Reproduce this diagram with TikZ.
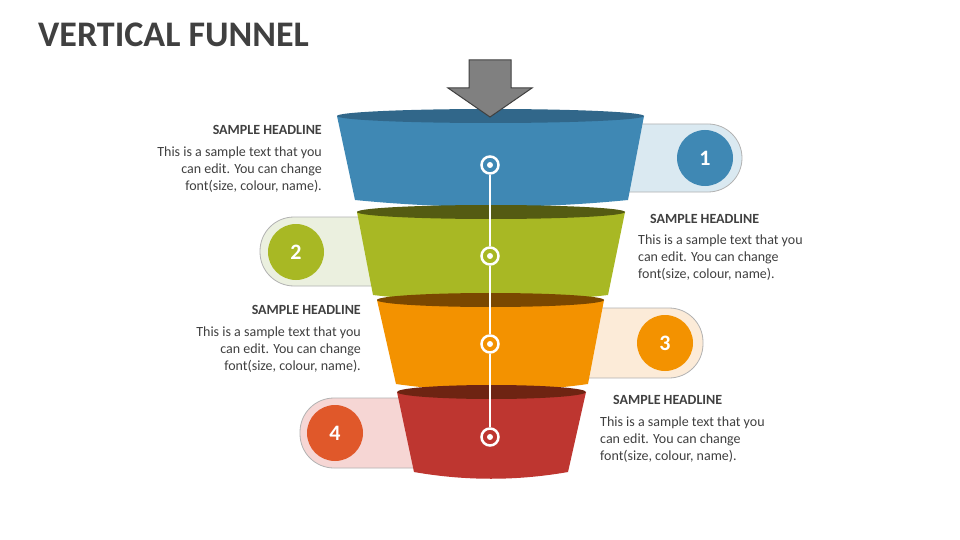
\documentclass[tikz,border=0pt]{standalone}
\usepackage{fontspec}
\setmainfont{Carlito}
\begin{document}
\begin{tikzpicture}[x=1pt,y=-1pt,
  pill/.style={draw=black!30,line width=0.8pt,rounded corners=34pt},
  num/.style={circle,minimum size=56pt,inner sep=0pt,text=white,font=\bfseries\fontsize{22}{22}\selectfont},
  ring/.style={circle,draw=white,line width=2.5pt,minimum size=17pt,inner sep=0pt},
  dot/.style={circle,fill=white,minimum size=6pt,inner sep=0pt},
  head/.style={font=\bfseries\fontsize{14}{16}\selectfont,text=black!75,inner sep=0pt},
  body/.style={font=\fontsize{14}{17}\selectfont,text=black!75,inner sep=0pt}]
\definecolor{cb}{HTML}{3F88B4}\definecolor{cbd}{HTML}{31678A}
\definecolor{cg}{HTML}{A8B824}\definecolor{cgd}{HTML}{545B12}
\definecolor{co}{HTML}{F39200}\definecolor{cod}{HTML}{7A4800}
\definecolor{cr}{HTML}{BE3630}\definecolor{crd}{HTML}{6E2412}
\definecolor{c4}{HTML}{E0582A}
\definecolor{pb}{HTML}{DAE9F1}\definecolor{pg}{HTML}{EBF0DF}
\definecolor{po}{HTML}{FCEBD8}\definecolor{pr}{HTML}{F6D6D4}
\useasboundingbox[fill=white] (0,0) rectangle (960,540);
\node[anchor=west,font=\bfseries\fontsize{36}{36}\selectfont,text=black!75,inner sep=0pt] (title) at (38,35) {VERTICAL FUNNEL};
% pills
\filldraw[pill,fill=pb] (540,124) rectangle (742,192);
\filldraw[pill,fill=pg] (260,217) rectangle (440,286);
\filldraw[pill,fill=po] (530,308) rectangle (703,378);
\filldraw[pill,fill=pr] (300,398) rectangle (460,468);
% funnel segments
\newcommand{\seg}[8]{%
 \fill[#7] (#1,#5) -- (#2,#6) .. controls ({#2+(#3-#2)/3},{#6+9}) and ({#3-(#3-#2)/3},{#6+9}) .. (#3,#6) -- (#4,#5) -- cycle;
 \fill[#8] ({(#1+#4)/2},#5) ellipse[x radius={(#4-#1)/2},y radius=7];}
\seg{337}{355}{628}{644}{116}{200}{cb}{cbd}
\seg{357}{373}{608}{625}{212}{295}{cg}{cgd}
\seg{377}{396}{588}{604}{300}{384}{co}{cod}
\seg{397}{414}{568}{586}{392}{472}{cr}{crd}
% arrow
\filldraw[fill=black!50,draw=black!75,line width=1pt] (469,60) -- (511,60) -- (511,88) -- (532,88) -- (490,117) -- (448,88) -- (469,88) -- cycle;
% rings and line
\node[ring] (r1) at (490,165) {};
\node[ring] (r2) at (490,256) {};
\node[ring] (r3) at (490,344) {};
\node[ring] (r4) at (490,437) {};
\draw[white,line width=2.5pt] (r1) -- (r2) -- (r3) -- (r4);
\foreach \i in {1,...,4}{\node[dot] (d\i) at (r\i) {};}
% numbers
\node[num,fill=cb] (n1) at (705,158) {1};
\node[num,fill=cg] (n2) at (296,252) {2};
\node[num,fill=co] (n3) at (665,343) {3};
\node[num,fill=c4] (n4) at (335,433) {4};
% texts
\node[head,anchor=east] (h1) at (322,130) {SAMPLE HEADLINE};
\node[body,anchor=north east,align=right] (b1) at (322,147) {This is a sample text that you\\can edit. You can change\\font(size, colour, name).};
\node[head,anchor=west] (h2) at (650,219) {SAMPLE HEADLINE};
\node[body,anchor=north west,align=left] (b2) at (638,235) {This is a sample text that you\\can edit. You can change\\font(size, colour, name).};
\node[head,anchor=east] (h3) at (361,310) {SAMPLE HEADLINE};
\node[body,anchor=north east,align=right] (b3) at (361,327) {This is a sample text that you\\can edit. You can change\\font(size, colour, name).};
\node[head,anchor=west] (h4) at (613,400) {SAMPLE HEADLINE};
\node[body,anchor=north west,align=left] (b4) at (600,417) {This is a sample text that you\\can edit. You can change\\font(size, colour, name).};
\end{tikzpicture}
\end{document}
